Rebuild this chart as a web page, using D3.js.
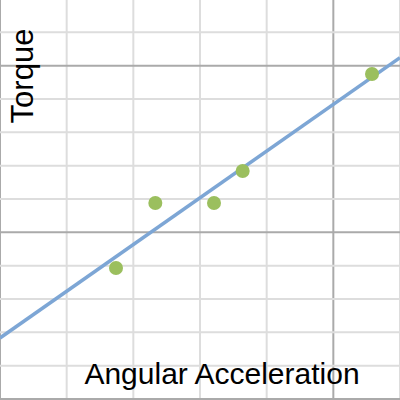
<!DOCTYPE html><html><head><script src="https://cdn.jsdelivr.net/npm/d3@7"></script>
<style>body{margin:0}</style></head><body><script>
const xs=[1.74,2.33,3.21,3.64,5.58];
const ys=[3.93,5.88,5.88,6.84,9.75];
const trend=[[0,1.83],[6,10.24]];
const xTicks=[0,1,2,3,4,5,6];
const yTicks=d3.range(0,13);
const W=400,H=400;
const x=d3.scaleLinear().domain([0,6]).range([0,400]);
const y=d3.scaleLinear().domain([0,12]).range([399,-1]);
const svg=d3.select("body").append("svg").attr("width",W).attr("height",H);
svg.append("rect").attr("width",W).attr("height",H).attr("fill","#fff");
svg.selectAll(".vx").data(xTicks).join("line").attr("x1",d=>x(d)).attr("x2",d=>x(d)).attr("y1",0).attr("y2",H)
 .attr("stroke",d=>d%5==0?"#aaa":"#ddd").attr("stroke-width",2);
svg.selectAll(".hy").data(yTicks).join("line").attr("y1",d=>y(d)).attr("y2",d=>y(d)).attr("x1",0).attr("x2",W)
 .attr("stroke",d=>d%5==0?"#aaa":"#ddd").attr("stroke-width",2);
svg.append("path").attr("d",d3.line().x(d=>x(d[0])).y(d=>y(d[1]))(trend)).attr("stroke","#7da6d5").attr("stroke-width",3.5).attr("fill","none");
svg.selectAll("circle").data(xs).join("circle").attr("cx",d=>x(d)).attr("cy",(d,i)=>y(ys[i])).attr("r",7).attr("fill","#9bbf5e");
svg.append("text").attr("x",222).attr("y",384).attr("text-anchor","middle").attr("font-family","Liberation Sans, Arial").attr("font-size",30).text("Angular Acceleration");
svg.append("text").attr("transform","translate(33,76) rotate(-90)").attr("text-anchor","middle").attr("font-family","Liberation Sans, Arial").attr("font-size",31).text("Torque");
</script></body></html>
